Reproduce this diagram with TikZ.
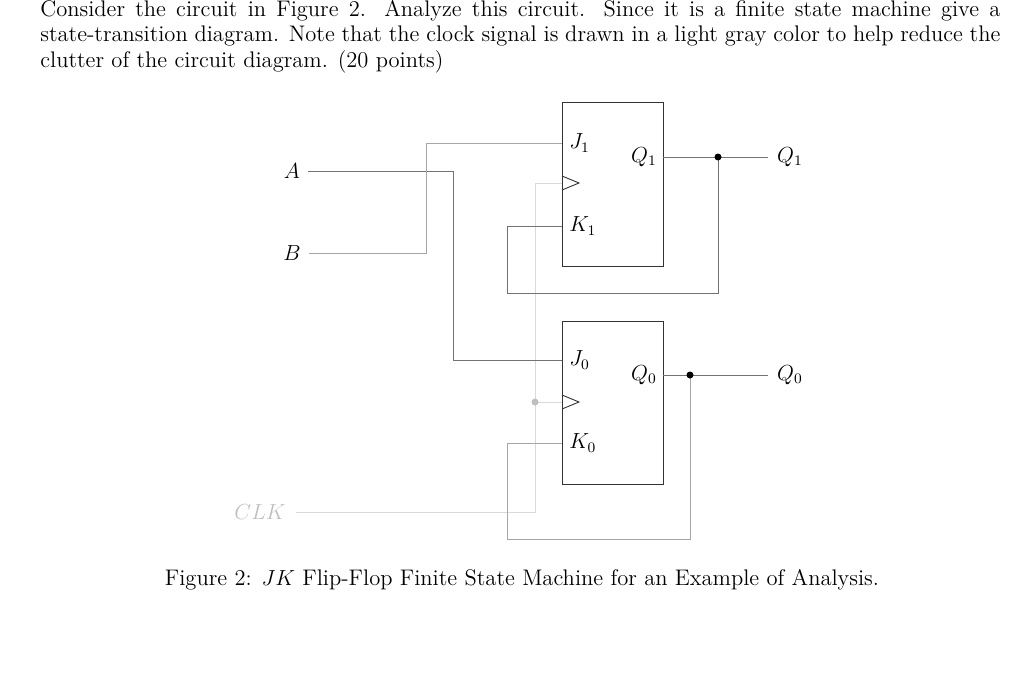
\documentclass[tikz,border=0pt]{standalone}
\begin{document}
\begin{tikzpicture}[x=0.55pt,y=-0.55pt,
  w/.style={draw=black!55,line width=0.5pt},
  lw/.style={draw=black!35,line width=0.5pt},
  clk/.style={draw=black!15,line width=0.5pt},
  ff/.style={draw=black!80,line width=0.5pt},
  lab/.style={inner sep=0pt,font=\fontsize{11.5}{13}\selectfont}]
\useasboundingbox (0,0) rectangle (1024,697);
\node[anchor=north west,inner sep=0pt,text width=528pt,align=justify,font=\fontsize{12.4}{14}\selectfont] (txt) at (40,0)
{Consider the circuit in Figure 2. Analyze this circuit. Since it is a finite state machine give a state-transition diagram. Note that the clock signal is drawn in a light gray color to help reduce the clutter of the circuit diagram. (20 points)};
% flip-flops
\node[ff,minimum width=55.5pt,minimum height=90.2pt,inner sep=0pt] (ff1) at (612.5,184) {};
\node[ff,minimum width=55.5pt,minimum height=89.6pt,inner sep=0pt] (ff0) at (612.5,402.5) {};
\draw[ff] (562,176) -- (579,183) -- (562,190);
\draw[ff] (562,395) -- (579,402) -- (562,409);
\node[lab,anchor=west] (j1) at (569,143) {$J_1$};
\node[lab,anchor=west] (k1) at (569,226) {$K_1$};
\node[lab,anchor=east] (q1) at (657,157) {$Q_1$};
\node[lab,anchor=west] (j0) at (569,360) {$J_0$};
\node[lab,anchor=west] (k0) at (569,443) {$K_0$};
\node[lab,anchor=east] (q0) at (657,375) {$Q_0$};
% inputs
\node[lab] (a) at (292,171) {$A$};
\node[lab] (b) at (292,253) {$B$};
\node[lab,text=black!25] (c) at (260,512) {$CLK$};
\node[lab,inner sep=5pt] (o1) at (790,157) {$Q_1$};
\node[lab,inner sep=5pt] (o0) at (790,375) {$Q_0$};
\coordinate (d1) at (718,157);
\coordinate (d0) at (690,375);
\coordinate (dc) at (535,402);
% clock
\draw[clk] (c.east)++(10,0) -- (535,512) -- (535,183) -- (562,183);
\draw[clk] (dc) -- (562,402);
\fill[black!25] (dc) circle (3.5);
% wires
\draw[w] (a.east)++(8,0) -- (453,171) -- (453,360) -- (562,360);
\draw[lw] (b.east)++(8,0) -- (426,253) -- (426,143) -- (562,143);
\draw[w] (663,157) -- (o1.west);
\draw[w] (663,375) -- (o0.west);
\draw[w] (d1) -- (718,293) -- (507,293) -- (507,226) -- (562,226);
\draw[lw] (d0) -- (690,539) -- (507,539) -- (507,443) -- (562,443);
\fill (d1) circle (3.5);
\fill (d0) circle (3.5);
\node[font=\fontsize{12.4}{14}\selectfont] (cap) at (522,580) {Figure 2: $JK$ Flip-Flop Finite State Machine for an Example of Analysis.};
\end{tikzpicture}
\end{document}
